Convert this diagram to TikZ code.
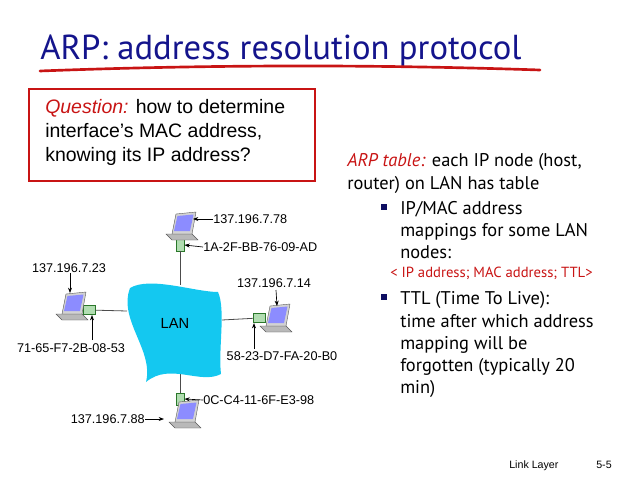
\documentclass[tikz,border=0pt]{standalone}
\usepackage{fontspec}
\setmainfont{PT Sans}
\newfontfamily\arial{Liberation Sans}
\usetikzlibrary{arrows.meta}
\definecolor{titleblue}{RGB}{20,20,140}
\definecolor{redc}{RGB}{200,20,20}
\definecolor{lancyan}{RGB}{20,200,240}
\definecolor{ifgreen}{RGB}{60,170,60}
\tikzset{
  lbl/.style={font=\arial\fontsize{9.5}{11}\selectfont, inner sep=0pt},
  lnk/.style={draw=black!70, line width=0.6pt},
  ptr/.style={-{Stealth[length=4pt,width=3pt]}, line width=0.5pt},
  iface/.style={draw=ifgreen!70!black, fill=ifgreen!40, minimum width=6pt, minimum height=9pt, inner sep=0pt, line width=0.6pt},
  rtxt/.style={anchor=base west, inner sep=0pt, font=\fontsize{13.8}{16}\selectfont},
  qtxt/.style={anchor=base west, inner sep=0pt, font=\arial\fontsize{14.6}{17}\selectfont},
  bul/.style={fill=titleblue!70!black, minimum size=5pt, inner sep=0pt},
  laptop/.pic={
    \fill[gray!55,draw=gray!70!black,line width=0.3pt] (-16,8) -- (10,8) -- (16,14) -- (-10,14) -- cycle;
    \fill[gray!35,draw=gray!70!black,line width=0.3pt] (-10,8) -- (-6,-12) -- (14,-14) -- (10,8) -- cycle;
    \fill[blue!45!white] (-8,5) -- (-4.5,-10) -- (11.5,-11.5) -- (8,5) -- cycle;
  }
}
\begin{document}
\begin{tikzpicture}[x=0.75pt,y=-0.75pt]
\useasboundingbox (0,0) rectangle (638,478);
% title
\node[anchor=base west, inner sep=0pt, text=titleblue, font=\fontsize{26}{30}\selectfont] (title) at (40,60) {ARP: address resolution protocol};
\draw[redc, line width=2pt, line cap=round] (40,71) .. controls (250,63) and (420,66) .. (540,70);
% question box
\node[draw=redc, line width=1.2pt, minimum width=214.5pt, minimum height=69pt, anchor=north west, inner sep=0pt] (qbox) at (28,88) {};
\node[qtxt] (q1) at (45,113) {\textcolor{redc}{\itshape Question:} how to determine};
\node[qtxt] (q2) at (45,137) {interface’s MAC address,};
\node[qtxt] (q3) at (45,161) {knowing its IP address?};
% right text
\node[rtxt] (t1) at (347,166) {\textcolor{redc}{\itshape ARP table:} each IP node (host,};
\node[rtxt] (t2) at (347,189) {router) on LAN has table};
\node[bul] (b1) at (384,207) {};
\node[rtxt] (t3a) at (400,214) {IP/MAC address};
\node[rtxt] (t3b) at (400,236) {mappings for some LAN};
\node[rtxt] (t3c) at (400,258) {nodes:};
\node[rtxt, text=redc, font=\fontsize{11}{13}\selectfont] (t4) at (390,277) {< IP address; MAC address; TTL>};
\node[bul] (b2) at (384,297) {};
\node[rtxt] (t5a) at (400,304) {TTL (Time To Live):};
\node[rtxt] (t5b) at (400,327) {time after which address};
\node[rtxt] (t5c) at (400,349) {mapping will be};
\node[rtxt] (t5d) at (400,371) {forgotten (typically 20};
\node[rtxt] (t5e) at (400,393) {min)};
% footer
\node[anchor=base west, inner sep=0pt, font=\arial\fontsize{8}{9}\selectfont] (ft) at (509,468) {Link Layer};
\node[anchor=base west, inner sep=0pt, font=\arial\fontsize{8}{9}\selectfont] (pg) at (596,468) {5-5};
% links
\coordinate (lanT) at (180,285);
\coordinate (lanL) at (127,311);
\coordinate (lanR) at (222,320);
\coordinate (lanB) at (180,372);
\node[iface] (iT) at (180,245) {};
\node[iface, minimum width=9pt, minimum height=7pt] (iL) at (89,310) {};
\node[iface, minimum width=9pt, minimum height=7pt] (iR) at (259,318) {};
\node[iface] (iB) at (180,399) {};
\draw[lnk] (iT) -- (lanT);
\draw[lnk] (iL) -- (lanL);
\draw[lnk] (iR) -- (lanR);
\draw[lnk] (iB) -- (lanB);
% LAN cloud
\fill[lancyan] (130,288) .. controls (150,276) and (195,292) .. (218,292)
  .. controls (226,310) and (218,350) .. (221,374)
  .. controls (200,385) and (170,362) .. (146,382)
  .. controls (154,350) and (118,320) .. (130,288) -- cycle;
\node[lbl, font=\arial\fontsize{11}{13}\selectfont] (lan) at (175,323) {LAN};
% laptops
\pic at (182,226) {laptop};
\pic at (72,306) {laptop};
\pic at (276,318) {laptop};
\pic at (185,414) {laptop};
\coordinate (pT) at (193,219);
\coordinate (pL) at (70,293);
\coordinate (pR) at (277,306);
\coordinate (pB) at (164,419);
% labels
\node[lbl, anchor=west] (ipT) at (213,219) {137.196.7.78};
\node[lbl, anchor=west] (macT) at (203,247) {1A-2F-BB-76-09-AD};
\node[lbl] (ipL) at (69,268) {137.196.7.23};
\node[lbl] (macL) at (71,348) {71-65-F7-2B-08-53};
\node[lbl] (ipR) at (274,283) {137.196.7.14};
\node[lbl] (macR) at (282,356) {58-23-D7-FA-20-B0};
\node[lbl, anchor=west] (macB) at (203,400) {0C-C4-11-6F-E3-98};
\node[lbl, anchor=east] (ipB) at (145,419) {137.196.7.88};
\draw[ptr] (ipT.west) -- (pT);
\draw[ptr] (macT.west) -- (iT.east);
\draw[ptr] (ipL.south) ++(1,0) -- (pL);
\draw[ptr] (92,340) -- (iL.south -| 92,0);
\draw[ptr] (276,290) -- (pR);
\draw[ptr] (254,349) -- (iR.south -| 254,0);
\draw[ptr] (macB.west) -- (iB.east);
\draw[ptr] (ipB.east) -- (pB);
\end{tikzpicture}
\end{document}
